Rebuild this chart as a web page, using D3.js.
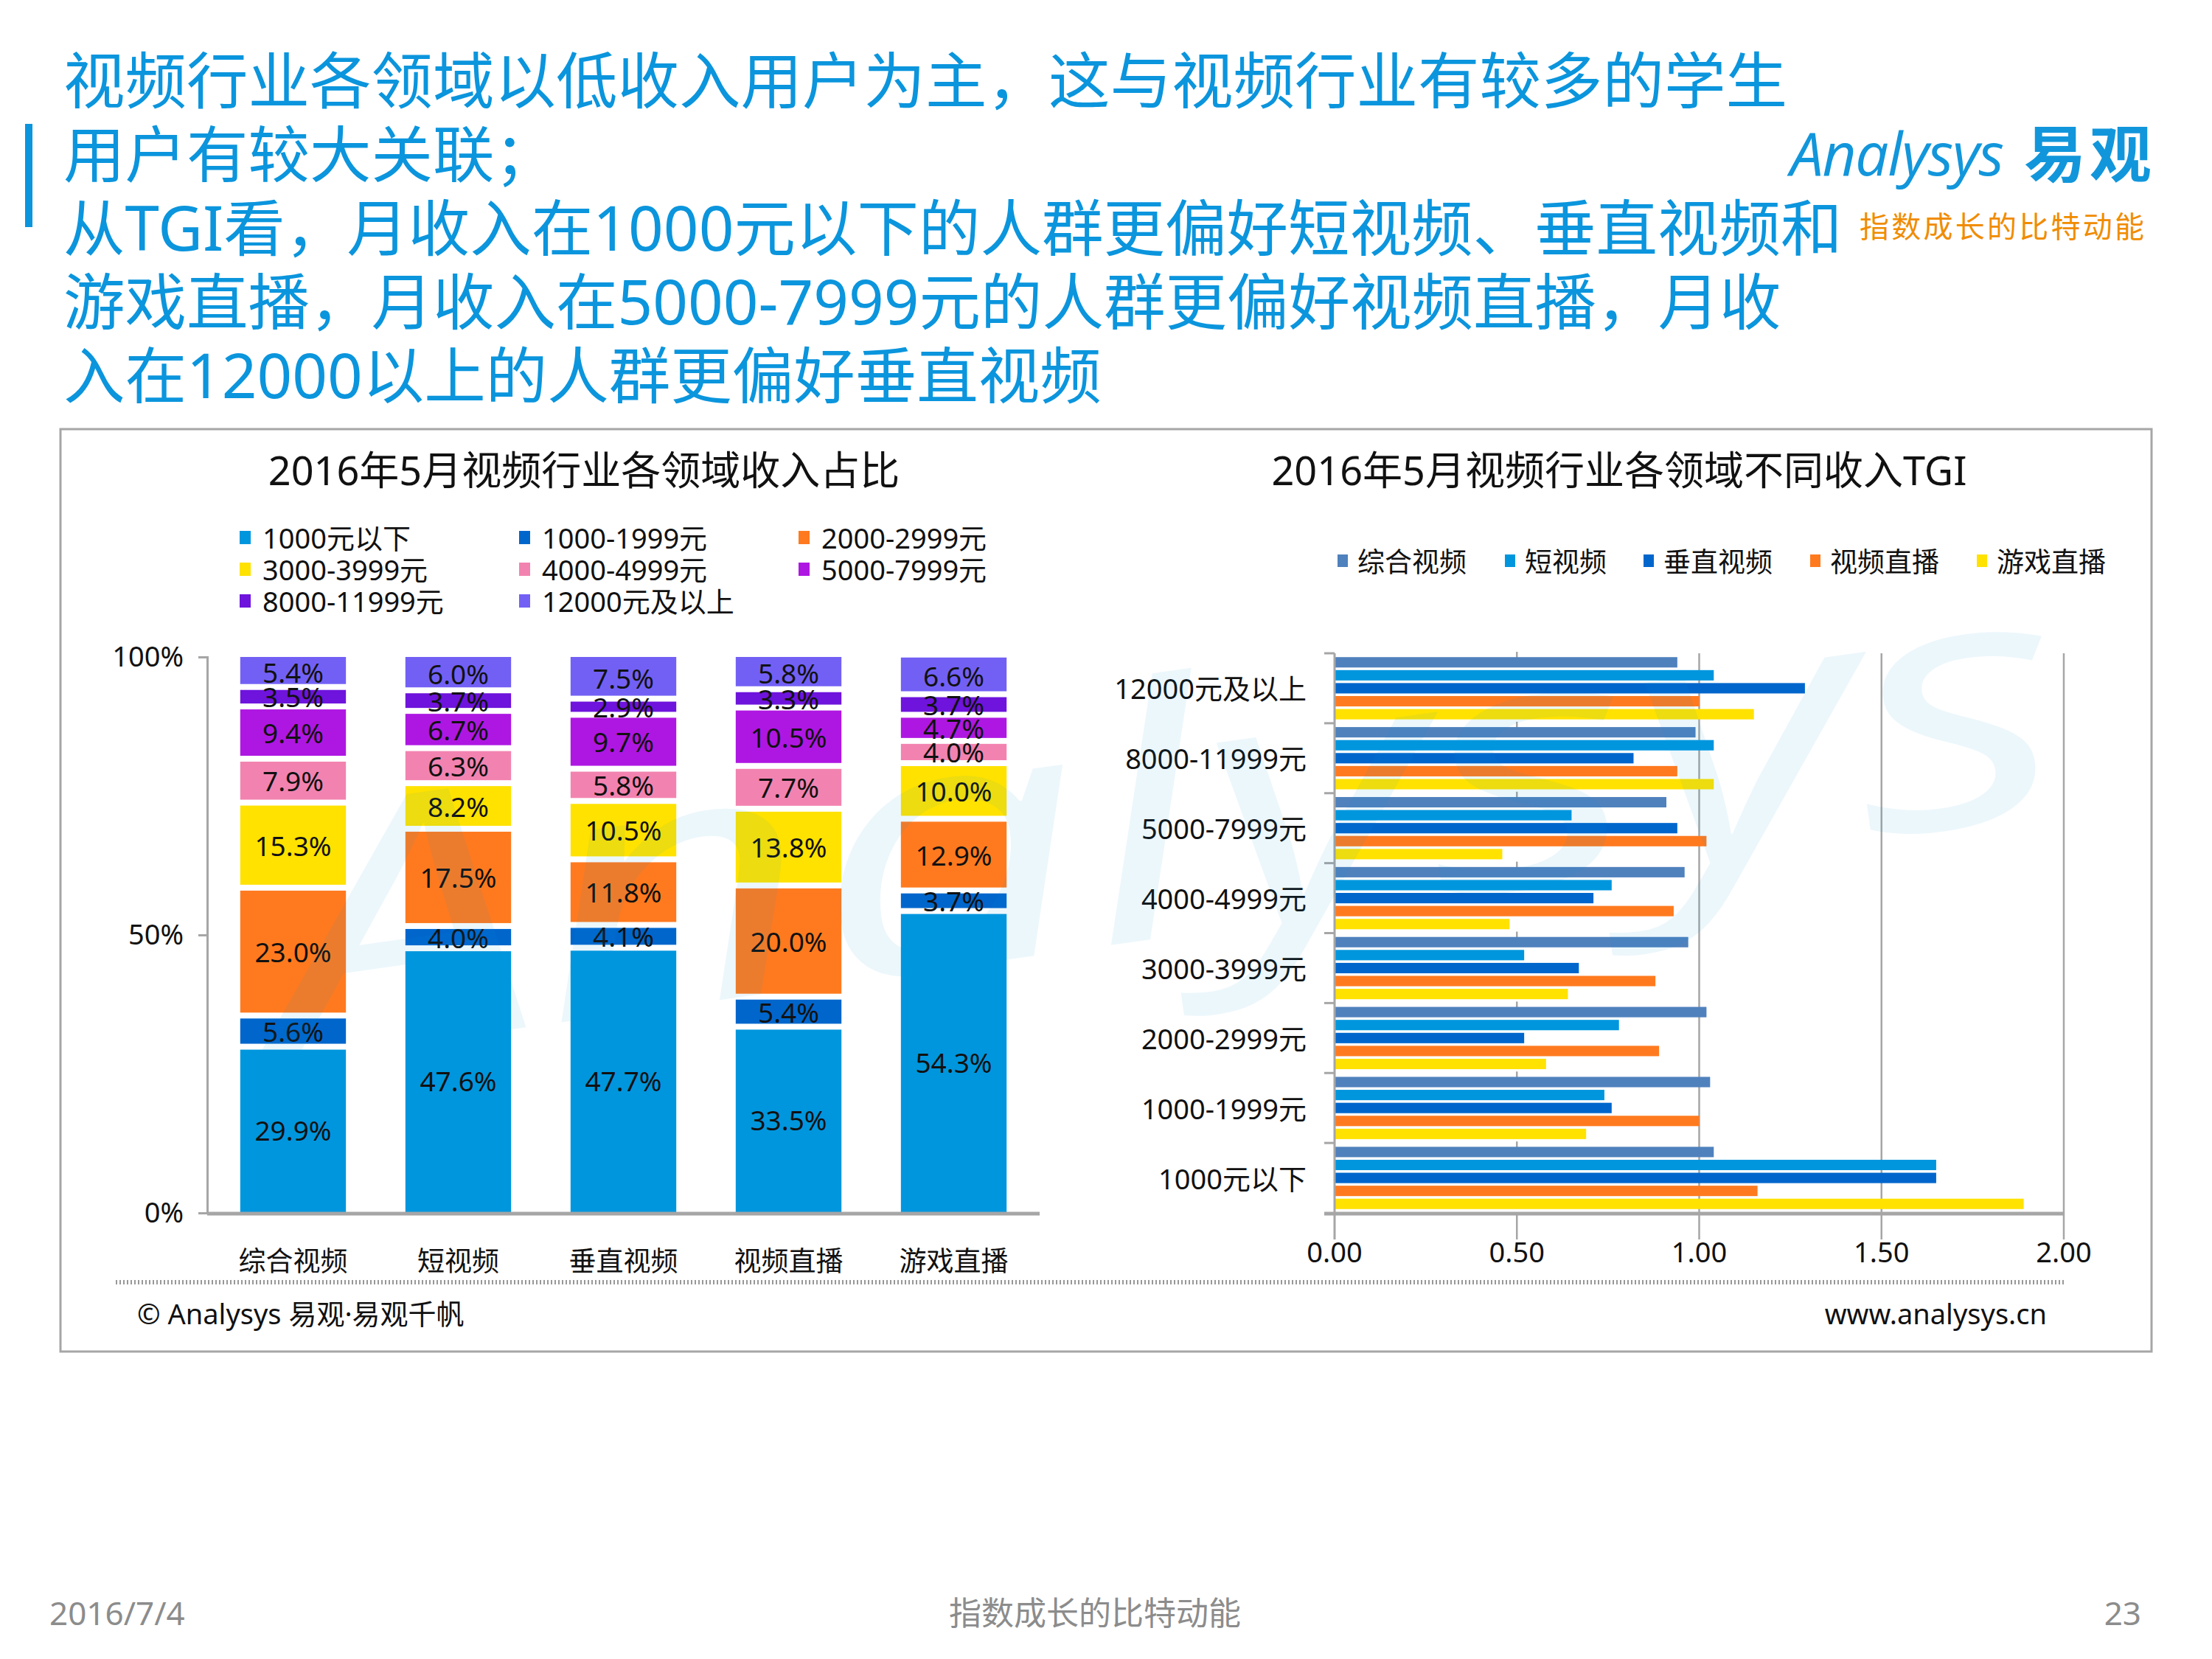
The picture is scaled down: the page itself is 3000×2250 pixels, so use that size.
<!DOCTYPE html>
<html>
<head>
<meta charset="utf-8">
<script src="https://cdn.jsdelivr.net/npm/d3@7"></script>
<style>
  body { margin: 0; background: #fff; }
  svg text { font-family: "Noto Sans", "Noto Sans CJK SC", sans-serif; }
</style>
</head>
<body>
<svg id="chart" width="3000" height="2250"></svg>
<script>
// ---- data ----
const platforms = ["综合视频", "短视频", "垂直视频", "视频直播", "游戏直播"];
const incomeGroups = ["1000元以下", "1000-1999元", "2000-2999元", "3000-3999元",
                      "4000-4999元", "5000-7999元", "8000-11999元", "12000元及以上"];

// income share (%), bottom to top, same order as incomeGroups
const shareZonghe   = [29.9, 5.6, 23.0, 15.3, 7.9, 9.4, 3.5, 5.4];
const shareDuan     = [47.6, 4.0, 17.5, 8.2, 6.3, 6.7, 3.7, 6.0];
const shareChuizhi  = [47.7, 4.1, 11.8, 10.5, 5.8, 9.7, 2.9, 7.5];
const shareZhibo    = [33.5, 5.4, 20.0, 13.8, 7.7, 10.5, 3.3, 5.8];
const shareYouxi    = [54.3, 3.7, 12.9, 10.0, 4.0, 4.7, 3.7, 6.6];

// TGI, same order as incomeGroups
const tgiZonghe  = [1.04, 1.03, 1.02, 0.97, 0.96, 0.91, 0.99, 0.94];
const tgiDuan    = [1.65, 0.74, 0.78, 0.52, 0.76, 0.65, 1.04, 1.04];
const tgiChuizhi = [1.65, 0.76, 0.52, 0.67, 0.71, 0.94, 0.82, 1.29];
const tgiZhibo   = [1.16, 1.00, 0.89, 0.88, 0.93, 1.02, 0.94, 1.00];
const tgiYouxi   = [1.89, 0.69, 0.58, 0.64, 0.48, 0.46, 1.04, 1.15];

const pctTicks = [0, 50, 100];
const tgiTicks = [0, 0.5, 1, 1.5, 2];

const headline = [
  "视频行业各领域以低收入用户为主，这与视频行业有较多的学生",
  "用户有较大关联；",
  "从TGI看，月收入在1000元以下的人群更偏好短视频、垂直视频和",
  "游戏直播，月收入在5000-7999元的人群更偏好视频直播，月收",
  "入在12000以上的人群更偏好垂直视频"
];

const shares = [shareZonghe, shareDuan, shareChuizhi, shareZhibo, shareYouxi];
const tgis = [tgiZonghe, tgiDuan, tgiChuizhi, tgiZhibo, tgiYouxi];

const incomeColors = ["#0096DE", "#0066CC", "#FF7A1F", "#FFE200",
                      "#F283B0", "#AE17E2", "#6E14DC", "#7260F5"];
const platformColors = ["#4F81BD", "#0096DE", "#0066CC", "#FF7A1F", "#FFE200"];

const svg = d3.select("#chart");
const gray = "#A6A6A6";

// ---- headline ----
svg.append("rect").attr("x", 34).attr("y", 168).attr("width", 10).attr("height", 140).attr("fill", "#0B95DD");
svg.selectAll(".headline")
  .data(headline)
  .enter().append("text")
  .attr("class", "headline")
  .attr("x", 86)
  .attr("y", (d, i) => 107 + i * 100)
  .attr("dominant-baseline", "central")
  .attr("font-size", 83.5)
  .attr("fill", "#0B95DD")
  .text(d => d);

// logo
svg.append("text").attr("x", 2428).attr("y", 238)
  .attr("font-size", 80).attr("font-style", "italic")
  .attr("fill", "#1296DB").attr("textLength", 290)
  .style("font-family", "'Open Sans', sans-serif")
  .text("Analysys");
svg.append("text").attr("x", 2745).attr("y", 240)
  .attr("font-size", 84).attr("font-weight", "bold")
  .attr("fill", "#1296DB").attr("textLength", 173)
  .text("易观");
svg.append("text").attr("x", 2522).attr("y", 306)
  .attr("dominant-baseline", "central")
  .attr("font-size", 40).attr("fill", "#F08C00")
  .attr("textLength", 386).attr("lengthAdjust", "spacing")
  .text("指数成长的比特动能");

// frame
svg.append("rect").attr("x", 82).attr("y", 582).attr("width", 2836).attr("height", 1251)
  .attr("fill", "none").attr("stroke", gray).attr("stroke-width", 3);

// ---- left chart: stacked share ----
const yPct = d3.scaleLinear().domain([0, 100]).range([1645, 891]);
const xCat = d3.scaleBand().domain(platforms).range([281, 1410]).paddingInner(0.36).paddingOuter(0.2);

svg.append("text").attr("x", 792).attr("y", 637).attr("text-anchor", "middle")
  .attr("dominant-baseline", "central").attr("font-size", 54).attr("fill", "#111")
  .text("2016年5月视频行业各领域收入占比");

// legend
const legL = svg.append("g");
incomeGroups.forEach((g, i) => {
  const col = i % 3, row = Math.floor(i / 3);
  const lx = 325 + col * 379, ly = 729 + row * 43;
  legL.append("rect").attr("x", lx).attr("y", ly - 9).attr("width", 15).attr("height", 18)
    .attr("fill", incomeColors[i]);
  legL.append("text").attr("x", lx + 31).attr("y", ly).attr("dominant-baseline", "central")
    .attr("font-size", 38).attr("fill", "#111").text(g);
});

// y axis
const yAxisL = svg.append("g").attr("transform", "translate(281,0)")
  .call(d3.axisLeft(yPct).tickValues(pctTicks).tickFormat(d => d + "%").tickSize(12).tickPadding(20));
yAxisL.select(".domain").attr("stroke", gray).attr("stroke-width", 3);
yAxisL.selectAll(".tick line").attr("stroke", gray).attr("stroke-width", 3);
yAxisL.selectAll(".tick text").attr("font-size", 38).attr("fill", "#111");

// stacked bars
shares.forEach((vals, pi) => {
  let cum = 0;
  const g = svg.append("g");
  vals.forEach((v, k) => {
    const y0 = yPct(cum), y1 = yPct(cum + v);
    const top = k === vals.length - 1 ? y1 : y1 + 4;
    const bot = k === 0 ? y0 : y0 - 4;
    g.append("rect")
      .attr("x", xCat(platforms[pi])).attr("width", xCat.bandwidth())
      .attr("y", top).attr("height", Math.max(0, bot - top))
      .attr("fill", incomeColors[k]);
    g.append("text")
      .attr("x", xCat(platforms[pi]) + xCat.bandwidth() / 2)
      .attr("y", (y0 + y1) / 2)
      .attr("text-anchor", "middle").attr("dominant-baseline", "central")
      .attr("font-size", 37).attr("fill", "#111")
      .text(v.toFixed(1) + "%");
    cum += v;
  });
});

// x axis
svg.append("line").attr("x1", 281).attr("x2", 1410).attr("y1", 1646).attr("y2", 1646)
  .attr("stroke", gray).attr("stroke-width", 5);
svg.selectAll(".catLabel")
  .data(platforms)
  .enter().append("text")
  .attr("class", "catLabel")
  .attr("x", d => xCat(d) + xCat.bandwidth() / 2)
  .attr("y", 1709)
  .attr("text-anchor", "middle").attr("dominant-baseline", "central")
  .attr("font-size", 37).attr("fill", "#111")
  .text(d => d);

// ---- right chart: TGI ----
const xTgi = d3.scaleLinear().domain([0, 2]).range([1810, 2799]);
const yGrp = d3.scaleBand().domain(incomeGroups.slice().reverse()).range([886, 1645]);
const ySub = d3.scaleBand().domain(platforms)
  .range([yGrp.bandwidth() * 0.055, yGrp.bandwidth() * 0.945]).paddingInner(0.2);

svg.append("text").attr("x", 2196).attr("y", 637).attr("text-anchor", "middle")
  .attr("dominant-baseline", "central").attr("font-size", 54).attr("fill", "#111")
  .text("2016年5月视频行业各领域不同收入TGI");

// legend
const legX = [1814, 2041, 2229, 2455, 2681];
platforms.forEach((p, i) => {
  svg.append("rect").attr("x", legX[i]).attr("y", 752).attr("width", 14).attr("height", 17)
    .attr("fill", platformColors[i]);
  svg.append("text").attr("x", legX[i] + 27).attr("y", 761).attr("dominant-baseline", "central")
    .attr("font-size", 37).attr("fill", "#111").text(p);
});

// gridlines
tgiTicks.filter(t => t >= 1).forEach(t => {
  svg.append("line").attr("x1", xTgi(t)).attr("x2", xTgi(t)).attr("y1", 886).attr("y2", 1681)
    .attr("stroke", gray).attr("stroke-width", 2.5);
});
// short marks at 0.5 on each group boundary
const boundaries = yGrp.domain().map(d => yGrp(d));
boundaries.forEach(b => {
  svg.append("line").attr("x1", xTgi(0.5)).attr("x2", xTgi(0.5)).attr("y1", b - 2).attr("y2", b + 8)
    .attr("stroke", gray).attr("stroke-width", 2.5);
});
svg.append("line").attr("x1", xTgi(0.5)).attr("x2", xTgi(0.5)).attr("y1", 1645).attr("y2", 1681)
  .attr("stroke", gray).attr("stroke-width", 2.5);

// bars
incomeGroups.forEach((g, gi) => {
  platforms.forEach((p, pi) => {
    svg.append("rect")
      .attr("x", xTgi(0) + 1)
      .attr("y", yGrp(g) + ySub(p))
      .attr("width", xTgi(tgis[pi][gi]) - xTgi(0) - 1)
      .attr("height", ySub.bandwidth())
      .attr("fill", platformColors[pi]);
  });
});

// y axis with ticks on group boundaries
svg.append("line").attr("x1", 1810).attr("x2", 1810).attr("y1", 886).attr("y2", 1681)
  .attr("stroke", gray).attr("stroke-width", 3);
boundaries.forEach(b => {
  svg.append("line").attr("x1", 1796).attr("x2", 1810).attr("y1", b).attr("y2", b)
    .attr("stroke", gray).attr("stroke-width", 3);
});
svg.append("line").attr("x1", 1796).attr("x2", 2799).attr("y1", 1646).attr("y2", 1646)
  .attr("stroke", gray).attr("stroke-width", 5);

svg.selectAll(".grpLabel")
  .data(incomeGroups)
  .enter().append("text")
  .attr("class", "grpLabel")
  .attr("x", 1772)
  .attr("y", d => yGrp(d) + yGrp.bandwidth() / 2)
  .attr("text-anchor", "end").attr("dominant-baseline", "central")
  .attr("font-size", 38).attr("fill", "#111")
  .text(d => d);

svg.selectAll(".tgiTick")
  .data(tgiTicks)
  .enter().append("text")
  .attr("class", "tgiTick")
  .attr("x", d => xTgi(d))
  .attr("y", 1697)
  .attr("text-anchor", "middle").attr("dominant-baseline", "central")
  .attr("font-size", 38).attr("fill", "#111")
  .text(d3.format(".2f"));

// watermark
svg.append("text")
  .attr("transform", "translate(380,1440) rotate(-8) scale(1.4,1)")
  .attr("font-size", 470).attr("font-style", "italic")
  .attr("fill", "#0096DE").attr("opacity", 0.07)
  .style("font-family", "'Open Sans', sans-serif")
  .text("Analysys");

// ---- source row ----
svg.append("line").attr("x1", 157).attr("x2", 2799).attr("y1", 1739).attr("y2", 1739)
  .attr("stroke", "#999").attr("stroke-width", 6).attr("stroke-dasharray", "2,3");
svg.append("text").attr("x", 186).attr("y", 1781).attr("dominant-baseline", "central")
  .attr("font-size", 38).attr("fill", "#111").text("© Analysys 易观·易观千帆");
svg.append("text").attr("x", 2776).attr("y", 1781).attr("dominant-baseline", "central")
  .attr("text-anchor", "end").attr("font-size", 38).attr("fill", "#111").text("www.analysys.cn");

// ---- footer ----
svg.append("text").attr("x", 67).attr("y", 2187).attr("dominant-baseline", "central")
  .attr("font-size", 44).attr("fill", "#8C8C8C").text("2016/7/4");
svg.append("text").attr("x", 1485).attr("y", 2187).attr("dominant-baseline", "central")
  .attr("text-anchor", "middle").attr("font-size", 44).attr("fill", "#8C8C8C").text("指数成长的比特动能");
svg.append("text").attr("x", 2904).attr("y", 2187).attr("dominant-baseline", "central")
  .attr("text-anchor", "end").attr("font-size", 44).attr("fill", "#8C8C8C").text("23");
</script>
</body>
</html>
